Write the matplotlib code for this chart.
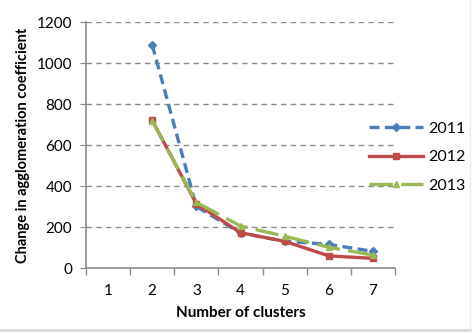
import matplotlib
matplotlib.use("Agg")
import matplotlib.pyplot as plt
from matplotlib.lines import Line2D
from matplotlib.ticker import FixedLocator, NullFormatter

# cluster counts and agglomeration coefficient changes per year
clusters = [1, 2, 3, 4, 5, 6, 7]
vals_2011 = [None, 1090, 302, 172, 133, 117, 83]
vals_2012 = [None, 722, 315, 174, 132, 61, 49]
vals_2013 = [None, 720, 322, 207, 157, 103, 65]
years = ["2011", "2012", "2013"]

plt.rcParams['font.family'] = ['Lato', 'DejaVu Sans']

fig = plt.figure(figsize=(4.74, 3.33), dpi=100)
ax = fig.add_axes([0.1814, 0.194, 0.652, 0.739])

def clean(v):
    return [float('nan') if x is None else x for x in v]

ax.plot(clusters, clean(vals_2011), color='#4a7ebb', lw=2.4, ls=(0, (3, 1.6)),
        marker='D', ms=4, label=years[0])
ax.plot(clusters, clean(vals_2012), color='#be4b48', lw=2.4, ls='-',
        marker='s', ms=5, label=years[1])
ax.plot(clusters, clean(vals_2013), color='#98b954', lw=2.4, ls=(0, (7, 2.5)),
        marker='^', ms=5, label=years[2])

ax.set_xlim(0.5, 7.5)
ax.set_ylim(0, 1200)
ax.set_yticks(range(0, 1201, 200))
ax.yaxis.grid(True, ls=(0, (4, 3)), color='#8c8c8c', lw=1)
ax.set_axisbelow(True)

# category labels between boundary ticks
ax.xaxis.set_major_locator(FixedLocator(clusters))
ax.xaxis.set_minor_locator(FixedLocator([c - 0.5 for c in clusters] + [7.5]))
ax.xaxis.set_minor_formatter(NullFormatter())
ax.tick_params(axis='x', which='major', length=0, pad=11, labelsize=11)
ax.tick_params(axis='x', which='minor', length=5, color='#8c8c8c', width=1)
ax.tick_params(axis='y', length=4, color='#8c8c8c', labelsize=11, pad=6)

for s in ['top', 'right']:
    ax.spines[s].set_visible(False)
for s in ['left', 'bottom']:
    ax.spines[s].set_color('#8c8c8c')
    ax.spines[s].set_linewidth(1.2)

ax.set_xlabel("Number of clusters", fontsize=11, fontweight='bold', labelpad=6)
ax.set_ylabel("Change in agglomeration coefficient", fontsize=10.5,
              fontweight='bold', labelpad=5)

leg = ax.legend(loc='center left', bbox_to_anchor=(0.778, 0.528),
                bbox_transform=fig.transFigure, frameon=False, borderpad=0,
                borderaxespad=0, fontsize=11.5, handlelength=3.4,
                labelspacing=0.9, handletextpad=0.3)

# thin frame along the right and bottom edges
fig.add_artist(Line2D([0, 0.992], [0.01, 0.01], transform=fig.transFigure,
                      color='#d9d9d9', lw=2))
fig.add_artist(Line2D([0.992, 0.992], [0.01, 1], transform=fig.transFigure,
                      color='#ececec', lw=1))

fig.savefig("out.png", dpi=100)
